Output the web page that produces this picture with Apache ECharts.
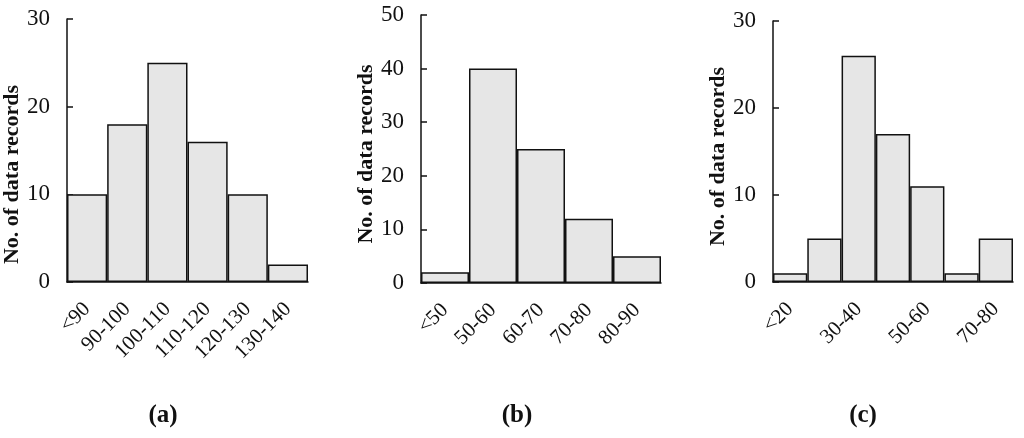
<!DOCTYPE html>
<html>
<head>
<meta charset="utf-8">
<script src="https://cdn.jsdelivr.net/npm/echarts@6/dist/echarts.min.js"></script>
<style>html,body{margin:0;padding:0;background:#fff}#c{width:1024px;height:438px}</style>
</head>
<body>
<div id="c"></div>
<script>
const catsA = ['<90','90-100','100-110','110-120','120-130','130-140'];
const valsA = [10, 18, 25, 16, 10, 2];
const catsB = ['<50','50-60','60-70','70-80','80-90'];
const valsB = [2, 40, 25, 12, 5];
const catsC = ['<20','20-30','30-40','40-50','50-60','60-70','70-80'];
const valsC = [1, 5, 26, 17, 11, 1, 5];
const yMaxA = 30, yMaxB = 50, yMaxC = 30;
const yName = 'No. of data records';
const captions = ['(a)', '(b)', '(c)'];

const FONT = '"Liberation Serif", "Times New Roman", serif';
const chart = echarts.init(document.getElementById('c'));

function xAxis(i, cats, interval) {
  return {
    type: 'category', gridIndex: i, data: cats,
    axisLine: { show: true, lineStyle: { color: '#111', width: 1.5 } },
    axisTick: { show: false },
    axisLabel: { rotate: 45, interval: interval, margin: 24, fontFamily: FONT, fontSize: 21, color: '#111' }
  };
}
function yAxis(i, max, padRight) {
  return {
    type: 'value', gridIndex: i, min: 0, max: max, interval: 10,
    name: yName, nameLocation: 'middle', nameGap: 39,
    nameTextStyle: { fontFamily: FONT, fontSize: 22, fontWeight: 'bold', color: '#111', padding: [0, padRight, 0, 0] },
    axisLine: { show: true, lineStyle: { color: '#111', width: 1.5 } },
    axisTick: { show: true, inside: true, length: 6, lineStyle: { color: '#111', width: 1.5 } },
    axisLabel: { margin: 17, fontFamily: FONT, fontSize: 23, color: '#111' },
    splitLine: { show: false }
  };
}
function bars(i, vals) {
  return {
    type: 'bar', xAxisIndex: i, yAxisIndex: i, data: vals,
    barCategoryGap: 0,
    itemStyle: { color: '#e6e6e6', borderColor: '#111', borderWidth: 1.5 },
    silent: true
  };
}

chart.setOption({
  animation: false,
  backgroundColor: '#fff',
  grid: [
    { left: 67, top: 19, width: 241, height: 263 },
    { left: 421, top: 15, width: 240, height: 268 },
    { left: 773, top: 21, width: 240, height: 261 }
  ],
  xAxis: [xAxis(0, catsA, 0), xAxis(1, catsB, 0), xAxis(2, catsC, 1)],
  yAxis: [yAxis(0, yMaxA, 48), yAxis(1, yMaxB, 10), yAxis(2, yMaxC, 10)],
  series: [bars(0, valsA), bars(1, valsB), bars(2, valsC)],
  title: captions.map((t, k) => ({
    text: t, left: [158, 512, 858][k], top: 398, textAlign: 'center',
    textStyle: { fontFamily: FONT, fontSize: 25, fontWeight: 'bold', color: '#111' }
  }))
});
</script>
</body>
</html>
